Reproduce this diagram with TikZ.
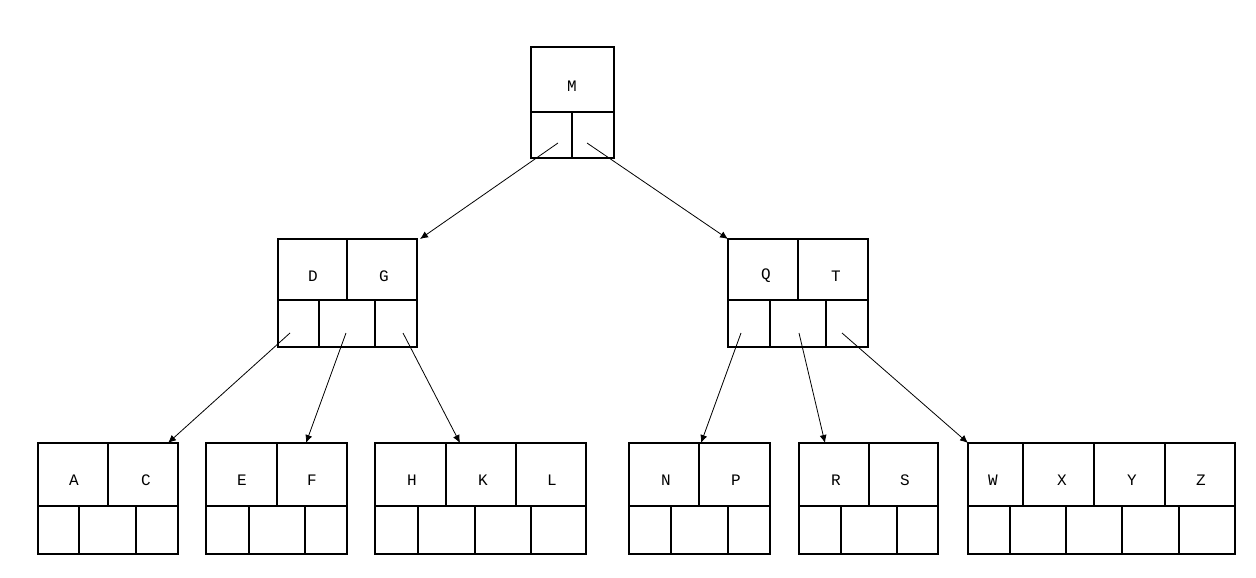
\documentclass[tikz,border=0pt]{standalone}
\usepackage{fontspec}
\usetikzlibrary{arrows.meta}
\setmainfont{Liberation Mono}
\begin{document}
\begin{tikzpicture}[x=1pt,y=-1pt,
  box/.style={draw,line width=1.1pt,inner sep=0pt},
  lbl/.style={font=\fontsize{16}{16}\selectfont},
  arr/.style={-{Latex[length=8pt,width=7pt]},line width=0.8pt}]
\useasboundingbox (0,0) rectangle (1256,578);
\tikzset{every path/.append style={line width=1.1pt}}
\newcommand{\bbox}[6]{%
  \node[box,minimum width={#4-#2},minimum height={#5-#3}] (#1) at ({(#2+#4)/2},{(#3+#5)/2}) {};
  \draw (#2,#6) -- (#4,#6);}
\bbox{m}{531}{47}{614}{158}{112}
\draw (572,112)--(572,158);
\node[lbl] at (572,86) {M};
\bbox{dg}{278}{239}{417}{347}{300}
\draw (347,239)--(347,300) (319,300)--(319,347) (375,300)--(375,347);
\node[lbl] at (313,276) {D}; \node[lbl] at (384,276) {G};
\bbox{qt}{728}{239}{868}{347}{300}
\draw (798,239)--(798,300) (770,300)--(770,347) (826,300)--(826,347);
\node[lbl] at (766,276) {Q}; \node[lbl] at (836,276) {T};
\bbox{ac}{38}{443}{178}{554}{506}
\draw (108,443)--(108,506) (79,506)--(79,554) (136,506)--(136,554);
\node[lbl] at (74,480) {A}; \node[lbl] at (146,480) {C};
\bbox{ef}{206}{443}{347}{554}{506}
\draw (277,443)--(277,506) (249,506)--(249,554) (305,506)--(305,554);
\node[lbl] at (242,480) {E}; \node[lbl] at (312,480) {F};
\bbox{hkl}{375}{443}{586}{554}{506}
\draw (446,443)--(446,506) (516,443)--(516,506) (418,506)--(418,554) (475,506)--(475,554) (531,506)--(531,554);
\node[lbl] at (412,480) {H}; \node[lbl] at (483,480) {K}; \node[lbl] at (552,480) {L};
\bbox{np}{629}{443}{770}{554}{506}
\draw (699,443)--(699,506) (671,506)--(671,554) (728,506)--(728,554);
\node[lbl] at (666,480) {N}; \node[lbl] at (736,480) {P};
\bbox{rs}{799}{443}{938}{554}{506}
\draw (869,443)--(869,506) (841,506)--(841,554) (897,506)--(897,554);
\node[lbl] at (836,480) {R}; \node[lbl] at (905,480) {S};
\bbox{wz}{968}{443}{1235}{554}{506}
\draw (1023,443)--(1023,506) (1094,443)--(1094,506) (1165,443)--(1165,506)
  (1010,506)--(1010,554) (1066,506)--(1066,554) (1122,506)--(1122,554) (1179,506)--(1179,554);
\node[lbl] at (993,480) {W}; \node[lbl] at (1062,480) {X}; \node[lbl] at (1132,480) {Y}; \node[lbl] at (1201,480) {Z};
\coordinate (m1) at (558,143); \coordinate (m2) at (587,143);
\coordinate (d1) at (290,333); \coordinate (d2) at (346,333); \coordinate (d3) at (403,333);
\coordinate (q1) at (741,333); \coordinate (q2) at (799,333); \coordinate (q3) at (842,333);
\coordinate (tdg) at (420,239); \coordinate (tqt) at (728,239);
\coordinate (tac) at (168,443); \coordinate (tef) at (306,443); \coordinate (thkl) at (460,443);
\coordinate (tnp) at (701,443); \coordinate (trs) at (825,443); \coordinate (twz) at (968,443);
\draw[arr] (m1)--(tdg); \draw[arr] (m2)--(tqt);
\draw[arr] (d1)--(tac); \draw[arr] (d2)--(tef); \draw[arr] (d3)--(thkl);
\draw[arr] (q1)--(tnp); \draw[arr] (q2)--(trs); \draw[arr] (q3)--(twz);
\end{tikzpicture}
\end{document}
